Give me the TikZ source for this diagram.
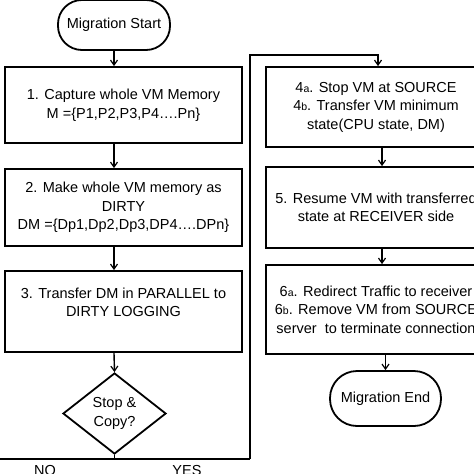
\documentclass[tikz,border=0pt]{standalone}
\usepackage{fontspec}
\setmainfont{Liberation Sans}
\usetikzlibrary{shapes.geometric,arrows.meta,calc}
\newcommand{\smallsub}[1]{{\fontsize{10.5}{12}\selectfont #1}}
\tikzset{
  box/.style={draw, line width=1.8pt, rectangle, inner sep=0pt, align=center},
  term/.style={draw, line width=1.8pt, rectangle, rounded corners=24pt, inner sep=0pt, align=center},
  dec/.style={draw, line width=1.8pt, diamond, aspect=1.27, inner sep=0pt, align=center},
  conn/.style={line width=1.4pt},
  arr/.style={line width=1.4pt, -{Straight Barb[length=5pt,width=7pt,line width=1.2pt]}},
  lbl/.style={inner sep=0pt, align=center}
}
\begin{document}
\begin{tikzpicture}[x=1pt,y=-1pt,font=\fontsize{14.5}{18.5}\selectfont]
\useasboundingbox (0,0) rectangle (474,474);
\clip (0,0) rectangle (474,474);
\fill[white] (0,0) rectangle (474,474);
% left column
\node[term, minimum width=112pt, minimum height=50pt] (start) at (114,25) {Migration Start};
\node[box, minimum width=237pt, minimum height=76pt] (b1) at (123.5,105) {1. Capture whole VM Memory\\M =\{P1,P2,P3,P4….Pn\}};
\node[box, minimum width=237pt, minimum height=77pt] (b2) at (123.5,207.5) {2. Make whole VM memory as\\DIRTY\\DM =\{Dp1,Dp2,Dp3,DP4….DPn\}};
\node[box, minimum width=237pt, minimum height=81pt] (b3) at (123.5,311.5) {3. Transfer DM in PARALLEL to\\DIRTY LOGGING\\\mbox{}};
\node[dec, minimum width=103pt, minimum height=81pt] (dia) at (114.5,413.5) {Stop \&\\Copy?};
% right column
\node[box, minimum width=220pt, minimum height=80pt] (b4) at (376,107) {4\smallsub{a}. Stop VM at SOURCE\\4\smallsub{b}. Transfer VM minimum\\state(CPU state, DM)};
\node[box, minimum width=220pt, minimum height=81pt] (b5) at (376,207.5) {5. Resume VM with transferred\\state at RECEIVER side};
\node[box, minimum width=220pt, minimum height=89pt] (b6) at (376,309.5) {6\smallsub{a}. Redirect Traffic to receiver\\6\smallsub{b}. Remove VM from SOURCE\\server\ \ to terminate connection};
\node[term, minimum width=111pt, minimum height=55pt, rounded corners=27pt] (end) at (385.5,398.5) {Migration End};
% labels
\node[lbl] (no) at (45,471) {NO};
\node[lbl] (yes) at (187,471) {YES};
% connectors
\draw[arr] (start.south) -- (start.south |- b1.north);
\draw[arr] (start.south |- b1.south) -- (start.south |- b2.north);
\draw[arr] (start.south |- b2.south) -- (start.south |- b3.north);
\draw[arr] (start.south |- b3.south) -- (dia.north);
\coordinate (jn) at (114.5,459);
\coordinate (lft) at (-5,459);
\coordinate (rgt) at (250,459);
\coordinate (up) at (250,55);
\draw[conn] (dia.south) -- (jn);
\draw[conn] (lft) -- (rgt);
\draw[arr] (rgt) -- (up) -| ($(b4.north)+(2,0)$);
\draw[arr] ($(b4.south)+(6,0)$) -- ($(b5.north)+(6,0)$);
\draw[arr] ($(b5.south)+(6,0)$) -- ($(b6.north)+(6,0)$);
\draw[arr] (b6.south -| end.north) -- (end.north);
\end{tikzpicture}
\end{document}
